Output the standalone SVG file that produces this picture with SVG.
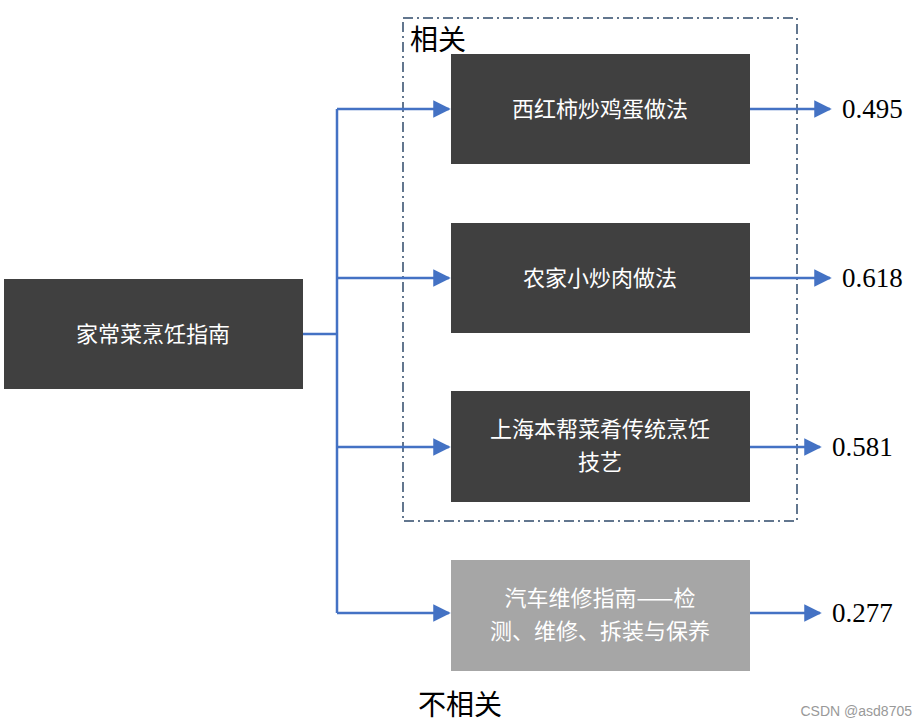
<svg xmlns="http://www.w3.org/2000/svg" width="917" height="726" viewBox="0 0 917 726">
<style>
.box{fill:#404040}
.gbox{fill:#a6a6a6}
.t{font-family:"Noto Sans CJK SC","Noto Sans",sans-serif;font-size:22px;fill:#fff;text-anchor:middle}
.n{font-family:"Liberation Serif",serif;font-size:27px;fill:#000}
.c{fill:none;stroke:#4472c4;stroke-width:2.5}
.lbl{font-family:"Noto Sans CJK SC",sans-serif;font-size:28px;fill:#000}
</style>
<defs><marker id="a" viewBox="0 0 10 10" refX="9" refY="5" markerWidth="6" markerHeight="6" markerUnits="userSpaceOnUse" orient="auto"><path d="M0,0L10,5L0,10z" fill="#4472c4"/></marker>
<marker id="b" viewBox="0 0 10 10" refX="9" refY="5" markerWidth="7" markerHeight="7" orient="auto"><path d="M0,0L10,5L0,10z" fill="#4472c4"/></marker></defs>
<rect width="917" height="726" fill="#fff"/>
<rect x="403" y="18" width="394" height="503" fill="none" stroke="#2f4a6a" stroke-width="1.5" stroke-dasharray="10,4,2,4"/>
<text class="lbl" x="410" y="50">相关</text>
<text class="lbl" x="418" y="715">不相关</text>
<g id="connectors">
<path class="c" d="M303,334H337M337,109V613"/>
<path class="c" d="M337,109H449" marker-end="url(#b)"/>
<path class="c" d="M337,278H449" marker-end="url(#b)"/>
<path class="c" d="M337,447H449" marker-end="url(#b)"/>
<path class="c" d="M337,613H449" marker-end="url(#b)"/>
<path class="c" d="M750,109H830" marker-end="url(#b)"/>
<path class="c" d="M750,278H830" marker-end="url(#b)"/>
<path class="c" d="M750,447H820" marker-end="url(#b)"/>
<path class="c" d="M750,613H820" marker-end="url(#b)"/>
</g>
<g id="root"><rect class="box" x="4" y="279" width="299" height="110"/><text class="t" x="153" y="342">家常菜烹饪指南</text></g>
<g id="n1"><rect class="box" x="451" y="54" width="299" height="110"/><text class="t" x="600" y="117">西红柿炒鸡蛋做法</text></g>
<g id="n2"><rect class="box" x="451" y="223" width="299" height="110"/><text class="t" x="600" y="286">农家小炒肉做法</text></g>
<g id="n3"><rect class="box" x="451" y="391" width="299" height="111"/><text class="t" x="600" y="437">上海本帮菜肴传统烹饪</text><text class="t" x="600" y="470">技艺</text></g>
<g id="n4"><rect class="gbox" x="451" y="560" width="299" height="111"/><text class="t" x="600" y="606">汽车维修指南——检</text><text class="t" x="600" y="639">测、维修、拆装与保养</text></g>
<g id="scores">
<text class="n" x="842" y="118">0.495</text>
<text class="n" x="842" y="287">0.618</text>
<text class="n" x="832" y="456">0.581</text>
<text class="n" x="832" y="622">0.277</text>
</g>
<text x="912" y="716" text-anchor="end" font-family="Liberation Sans,sans-serif" font-size="14" fill="#999">CSDN @asd8705</text>
</svg>
